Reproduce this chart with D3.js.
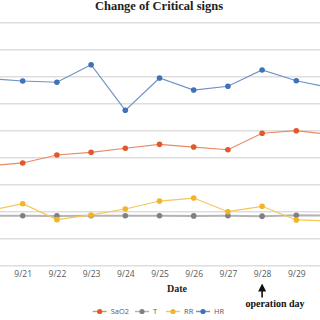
<!DOCTYPE html>
<html>
<head>
<meta charset="utf-8">
<script src="https://cdn.jsdelivr.net/npm/d3@7"></script>
<style>
  html, body { margin: 0; padding: 0; background: #fff; }
  svg { display: block; }
</style>
</head>
<body>
<div id="chart"></div>
<script>
// dates (first and last are only partly visible in the crop)
const dates = ["9/20", "9/21", "9/22", "9/23", "9/24", "9/25", "9/26", "9/27", "9/28", "9/29", "9/30"];
const tickDates = ["9/21", "9/22", "9/23", "9/24", "9/25", "9/26", "9/27", "9/28", "9/29"];
const sao2 = [73.9, 76.1, 82, 84, 87, 89.9, 87.9, 85.9, 98.1, 100, 97.2];
const temp = [37, 37, 36.9, 37, 37, 37, 36.9, 37, 36.7, 37.4, 37.2];
const rr = [40.8, 45.9, 34.1, 37.6, 42, 47.9, 50.1, 40, 44, 33.9, 33.1];
const hr = [138.7, 136.8, 135.9, 148.9, 115.1, 139, 130.1, 132.9, 145, 137, 131.7];
const gridValues = [0, 20, 40, 60, 80, 100, 120, 140, 160, 180];

const seriesList = [
  { name: "SaO2", values: sao2, color: "#e2582b", line: "#e98a62", lw: 1.2 },
  { name: "T", values: temp, color: "#808080", line: "#b4b4b4", lw: 2 },
  { name: "RR", values: rr, color: "#f2b526", line: "#f3c75a", lw: 1.2 },
  { name: "HR", values: hr, color: "#3f72b6", line: "#6e93c6", lw: 1.2 }
];

const width = 320, height = 320;

const svg = d3.select("#chart")
  .append("svg")
  .attr("width", width)
  .attr("height", height);

const x = d3.scalePoint().domain(dates).range([-11.5, 330.5]);
const y = d3.scaleLinear().domain([0, 180]).range([265.7, 22.7]);

// grid
svg.append("g")
  .selectAll("line")
  .data(gridValues)
  .enter()
  .append("line")
  .attr("x1", 0)
  .attr("x2", width)
  .attr("y1", d => y(d))
  .attr("y2", d => y(d))
  .attr("stroke", "#dedede")
  .attr("stroke-width", 1.4);

// x tick labels
const xAxis = svg.append("g")
  .attr("transform", `translate(0,${y(0)})`)
  .call(d3.axisBottom(x).tickValues(tickDates).tickSize(0).tickPadding(5));
xAxis.select(".domain").remove();
xAxis.selectAll("text")
  .attr("font-family", "'Open Sans', sans-serif")
  .attr("font-size", 8.5)
  .attr("fill", "#595959");

// series
const line = d3.line()
  .x((d, i) => x(dates[i]))
  .y(d => y(d));

seriesList.forEach(s => {
  svg.append("path")
    .datum(s.values)
    .attr("fill", "none")
    .attr("stroke", s.line)
    .attr("stroke-width", s.lw)
    .attr("d", line);
  svg.append("g")
    .selectAll("circle")
    .data(s.values)
    .enter()
    .append("circle")
    .attr("cx", (d, i) => x(dates[i]))
    .attr("cy", d => y(d))
    .attr("r", 2.8)
    .attr("fill", s.color);
});

// title
svg.append("text")
  .attr("x", 159)
  .attr("y", 10)
  .attr("text-anchor", "middle")
  .attr("font-family", "'Liberation Serif', serif")
  .attr("font-weight", "bold")
  .attr("font-size", 12.5)
  .attr("fill", "#222")
  .text("Change of Critical signs");

// axis title
svg.append("text")
  .attr("x", 177)
  .attr("y", 292)
  .attr("text-anchor", "middle")
  .attr("font-family", "'Liberation Serif', serif")
  .attr("font-weight", "bold")
  .attr("font-size", 10)
  .attr("fill", "#222")
  .text("Date");

// operation day annotation
const opX = x("9/28");
svg.append("defs").append("marker")
  .attr("id", "head")
  .attr("viewBox", "0 0 10 10")
  .attr("refX", 5).attr("refY", 5)
  .attr("markerWidth", 5).attr("markerHeight", 5)
  .attr("orient", "auto")
  .append("path")
  .attr("d", "M0,0 L10,5 L0,10 Z")
  .attr("fill", "#111");
svg.append("line")
  .attr("x1", opX).attr("x2", opX)
  .attr("y1", 297.5).attr("y2", 287.5)
  .attr("stroke", "#111")
  .attr("stroke-width", 1.6)
  .attr("marker-end", "url(#head)");
svg.append("text")
  .attr("x", 275)
  .attr("y", 306.5)
  .attr("text-anchor", "middle")
  .attr("font-family", "'Liberation Serif', serif")
  .attr("font-weight", "bold")
  .attr("font-size", 10)
  .attr("fill", "#111")
  .text("operation day");

// legend
const legendX = [92.7, 135, 166, 196];
const legend = svg.append("g")
  .selectAll("g")
  .data(seriesList)
  .enter()
  .append("g")
  .attr("transform", (d, i) => `translate(${legendX[i]},311.5)`);
legend.append("line")
  .attr("x1", 0).attr("x2", 14)
  .attr("stroke", d => d.line)
  .attr("stroke-width", 1.4);
legend.append("circle")
  .attr("cx", 7)
  .attr("r", 2.6)
  .attr("fill", d => d.color);
legend.append("text")
  .attr("x", 18)
  .attr("dy", "0.35em")
  .attr("font-family", "'Open Sans', sans-serif")
  .attr("font-size", 7.5)
  .attr("fill", "#595959")
  .text(d => d.name);
</script>
</body>
</html>
